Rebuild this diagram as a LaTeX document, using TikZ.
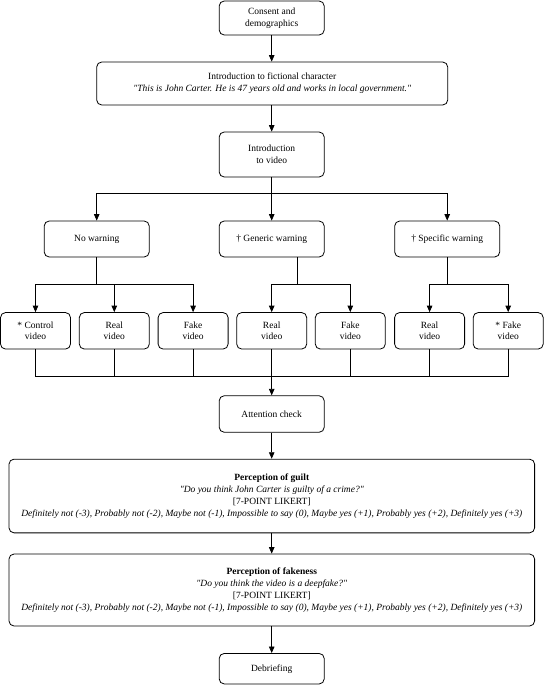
\documentclass[tikz,border=0pt]{standalone}
\usepackage{fontspec}
\setmainfont{Liberation Serif}[Ligatures=TeXOff]
\usetikzlibrary{arrows.meta,positioning,calc}
\begin{document}
\begin{tikzpicture}[x=1pt,y=-1pt,
  box/.style={draw, rounded corners=5pt, line width=0.8pt, align=center, inner sep=1pt,
    font=\fontsize{9.5}{11.7}\selectfont},
  smallbox/.style={box, minimum width=105pt},
  vidbox/.style={box, minimum width=70pt, minimum height=36.5pt},
  wide/.style={box, minimum width=525.6pt, font=\fontsize{9.5}{12}\selectfont},
  arr/.style={line width=0.8pt, -{Triangle[length=6.5pt,width=5.5pt]}},
  ln/.style={line width=0.8pt}
]
\useasboundingbox (0,0) rectangle (544,685);

\node[smallbox, minimum height=34pt] (consent) at (271.7,18) {Consent and\\demographics};
\node[box, minimum width=351pt, minimum height=43pt] (intro) at (272.2,83.5)
  {Introduction to fictional character\\\textit{"This is John Carter. He is 47 years old and works in local government."}};
\node[smallbox, minimum height=45pt] (introvid) at (271.7,154.5) {Introduction\\to video};

\node[smallbox, minimum height=36pt] (nw) at (96.7,239) {No warning};
\node[smallbox, minimum height=36pt] (gw) at (271.7,239) {\textdagger{} Generic warning};
\node[smallbox, minimum height=36pt] (sw) at (447.2,239) {\textdagger{} Specific warning};

\node[vidbox] (v1) at (35.5,330.8) {* Control\\video};
\node[vidbox] (v2) at (114.3,330.8) {Real\\video};
\node[vidbox] (v3) at (193.1,330.8) {Fake\\video};
\node[vidbox] (v4) at (271.7,330.8) {Real\\video};
\node[vidbox] (v5) at (350.3,330.8) {Fake\\video};
\node[vidbox] (v6) at (429.6,330.8) {Real\\video};
\node[vidbox] (v7) at (508.2,330.8) {* Fake\\video};

\node[smallbox, minimum height=36.5pt] (att) at (271.7,414) {Attention check};

\node[wide, minimum height=73.7pt] (guilt) at (271.8,496)
  {\textbf{Perception of guilt}\\
   \textit{"Do you think John Carter is guilty of a crime?"}\\
   {[7-POINT LIKERT]}\\
   \textit{Definitely not (-3), Probably not (-2), Maybe not (-1), Impossible to say (0), Maybe yes (+1), Probably yes (+2), Definitely yes (+3)}};
\node[wide, minimum height=72pt] (fake) at (271.8,590)
  {\textbf{Perception of fakeness}\\
   \textit{"Do you think the video is a deepfake?"}\\
   {[7-POINT LIKERT]}\\
   \textit{Definitely not (-3), Probably not (-2), Maybe not (-1), Impossible to say (0), Maybe yes (+1), Probably yes (+2), Definitely yes (+3)}};
\node[smallbox, minimum height=30.5pt] (deb) at (271.7,668.7) {Debriefing};

% top chain
\draw[arr] (consent.south) -- (consent.south |- intro.north);
\draw[arr] (introvid.north |- intro.south) -- (introvid.north);

% split to warnings
\coordinate (j1) at (271.7,193);
\draw[ln] (introvid.south) -- (j1);
\draw[arr] (j1) -| (nw.north);
\draw[arr] (j1) -| (sw.north);
\draw[arr] (j1) -- (gw.north);

% no warning branch
\coordinate (jn) at (96.7,284);
\draw[ln] (nw.south) -- (jn);
\draw[arr] (jn) -| (v1.north);
\draw[arr] (jn) -| (v3.north);
\draw[arr] (v2.north |- jn) -- (v2.north);

% generic branch
\coordinate (jg) at (297.7,284);
\draw[ln] (jg |- gw.south) -- (jg);
\draw[arr] (jg) -| (v4.north);
\draw[arr] (jg) -| (v5.north);

% specific branch
\coordinate (js) at (447.2,284);
\draw[ln] (sw.south) -- (js);
\draw[arr] (js) -| (v6.north);
\draw[arr] (js) -| (v7.north);

% merge
\coordinate (jm) at (271.7,376);
\draw[ln] (v1.south) |- (jm);
\draw[ln] (v7.south) |- (jm);
\foreach \v in {v2,v3,v4,v5,v6} \draw[ln] (\v.south) -- (\v.south |- jm);
\draw[arr] (jm) -- (att.north);

% bottom chain
\draw[arr] (att.south) -- (att.south |- guilt.north);
\draw[arr] (att.south |- guilt.south) -- (att.south |- fake.north);
\draw[arr] (deb.north |- fake.south) -- (deb.north);
\end{tikzpicture}
\end{document}
